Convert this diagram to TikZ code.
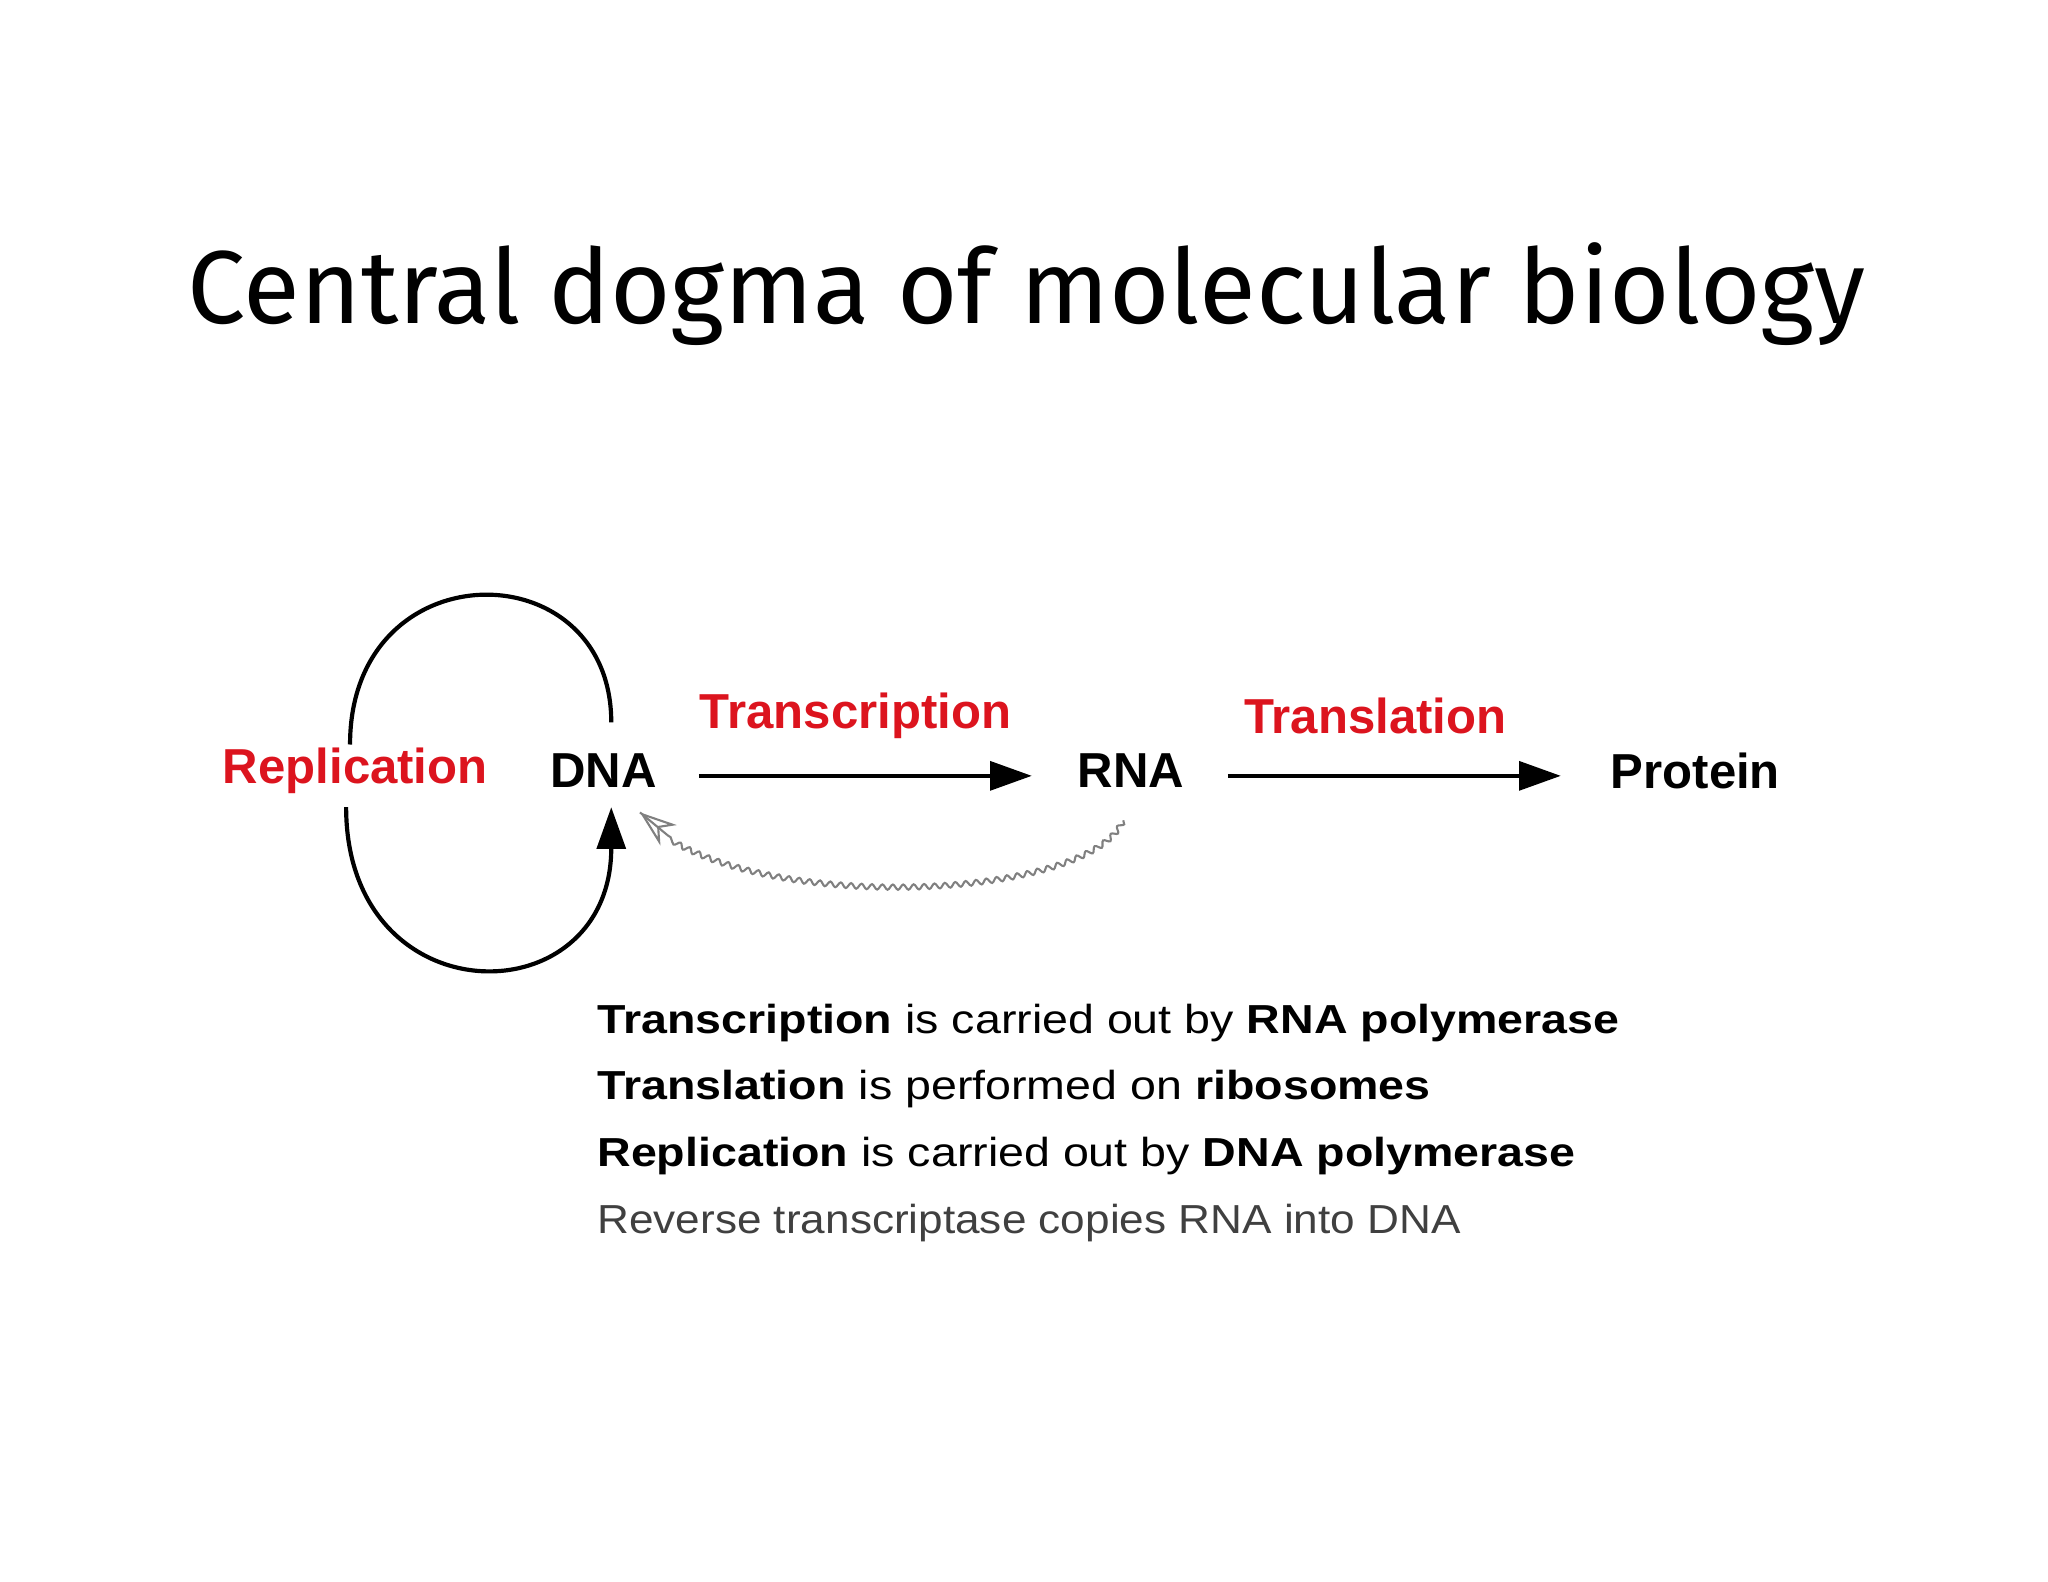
\documentclass[tikz,border=0pt]{standalone}
\usepackage{fontspec}
\setmainfont{Liberation Sans}
\newfontfamily\titlefont{Fira Sans}
\newfontfamily\widefont[FakeStretch=1.15]{Liberation Sans}
\newfontfamily\midfont[FakeStretch=1.09]{Liberation Sans}
\usetikzlibrary{arrows.meta,decorations.pathmorphing}
\definecolor{repred}{RGB}{220,20,30}
\tikzset{
  lbl/.style={font=\bfseries\fontsize{18.8}{22}\selectfont,inner sep=0pt},
  red lbl/.style={lbl,text=repred},
  line/.style={font=\widefont\fontsize{15.5}{18}\selectfont,inner sep=0pt,anchor=west},
  arr/.style={line width=1.6pt,-{Triangle[length=16pt,width=11pt]}},
}
\begin{document}
\begin{tikzpicture}[x=0.5pt,y=-0.5pt]
\useasboundingbox[fill=white] (0,0) rectangle (1568,1211);
\node[font=\titlefont\fontsize{39.7}{46}\selectfont] (title) at (786,225) {Central dogma of molecular biology};
\node[red lbl] (rep) at (272,590) {Replication};
\node[lbl] (dna) at (462,590) {DNA};
\node[red lbl] (tsc) at (655,548) {Transcription};
\node[lbl] (rna) at (866,590) {RNA};
\node[red lbl] (tsl) at (1053,548) {Translation};
\node[lbl] (pro) at (1298,590) {Protein};
\coordinate (a1) at (535,594); \coordinate (b1) at (790,594);
\coordinate (a2) at (940,594); \coordinate (b2) at (1195,594);
\draw[arr] (a1) -- (b1);
\draw[arr] (a2) -- (b2);
\coordinate (lt) at (468,553); \coordinate (ll) at (268,570);
\coordinate (lb) at (265,618); \coordinate (lr) at (468,618);
\draw[line width=1.6pt] (lt) .. controls (468,420) and (268,420) .. (ll);
\draw[arr] (lb) .. controls (265,780) and (468,780) .. (lr);
\coordinate (rs) at (860,628); \coordinate (re) at (490,622);
\draw[gray,line width=0.8pt,decorate,decoration={snake,amplitude=1pt,segment length=4pt,post length=14pt}] (rs) .. controls (830,690) and (560,700) .. (re);
\draw[gray,line width=0.8pt,-{Stealth[length=14pt,width=10pt,open]}] (505,634) -- (re);
\node[line] (l1) at (457,783) {\textbf{Transcription} is carried out by \textbf{RNA polymerase}};
\node[line] (l2) at (457,834) {\textbf{Translation} is performed on \textbf{ribosomes}};
\node[line] (l3) at (457,885) {\textbf{Replication} is carried out by \textbf{DNA polymerase}};
\node[line,font=\midfont\fontsize{15.5}{18}\selectfont,text=black!75] (l4) at (457,936) {Reverse transcriptase copies RNA into DNA};
\end{tikzpicture}
\end{document}
